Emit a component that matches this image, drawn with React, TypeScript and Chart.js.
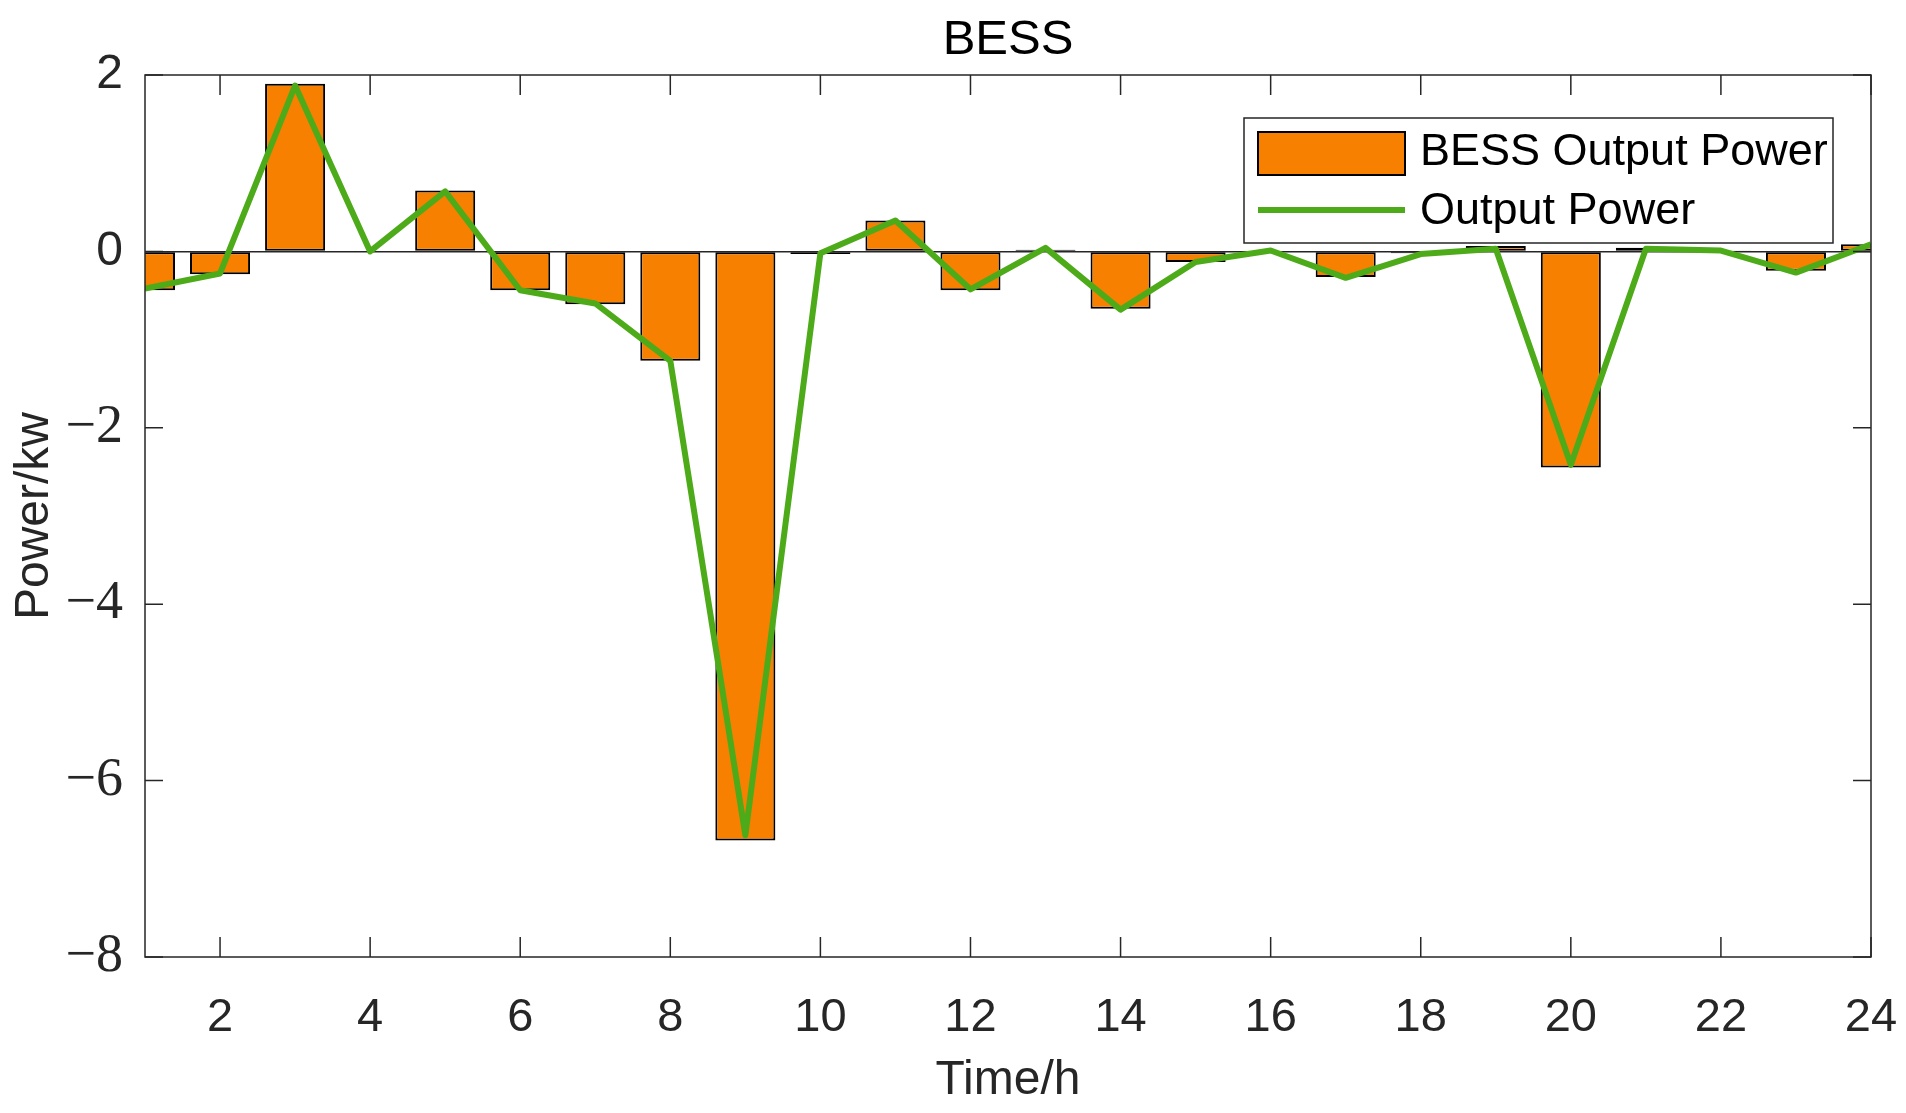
import React, { useEffect, useRef } from 'react';
import { Chart, registerables } from 'chart.js';

Chart.register(...registerables);

const hours = [1, 2, 3, 4, 5, 6, 7, 8, 9, 10, 11, 12, 13, 14, 15, 16, 17, 18, 19, 20, 21, 22, 23, 24];
const bessOutputPower = [-0.44, -0.26, 1.9, 0, 0.69, -0.44, -0.6, -1.24, -6.68, -0.03, 0.35, -0.44, 0.02, -0.65, -0.12, -0.01, -0.29, -0.02, 0.06, -2.45, 0.04, 0.01, -0.22, 0.08];
const outputPower = [-0.42, -0.25, 1.88, 0, 0.68, -0.44, -0.59, -1.24, -6.62, -0.02, 0.35, -0.43, 0.04, -0.66, -0.12, 0.01, -0.3, -0.03, 0.03, -2.42, 0.03, 0.01, -0.24, 0.08];
const xTickValues = [2, 4, 6, 8, 10, 12, 14, 16, 18, 20, 22, 24];
const yMin = -8;
const yMax = 2;
const yStep = 2;

const SANS = '"Liberation Sans", Arial, sans-serif';
const SERIF = '"Liberation Serif", "Times New Roman", serif';
const AXIS = '#262626';
const ORANGE = '#f88000';
const GREEN = '#4dab1a';

const frameTicks = {
  id: 'frameTicks',
  afterDatasetsDraw(chart: any) {
    const { ctx, chartArea: a, scales } = chart;
    const x = scales.x;
    const y = scales.y;
    ctx.save();
    ctx.strokeStyle = AXIS;
    ctx.lineWidth = 1.5;
    ctx.beginPath();
    x.ticks.forEach((t: any) => {
      const px = x.getPixelForValue(t.value);
      ctx.moveTo(px, a.bottom);
      ctx.lineTo(px, a.bottom - 20);
      ctx.moveTo(px, a.top);
      ctx.lineTo(px, a.top + 20);
    });
    y.ticks.forEach((t: any) => {
      const py = y.getPixelForValue(t.value);
      ctx.moveTo(a.left, py);
      ctx.lineTo(a.left + 18, py);
      ctx.moveTo(a.right, py);
      ctx.lineTo(a.right - 18, py);
    });
    ctx.stroke();
    ctx.strokeRect(a.left, a.top, a.right - a.left, a.bottom - a.top);
    ctx.restore();
  },
};

const boxLegend = {
  id: 'boxLegend',
  afterDraw(chart: any) {
    const { ctx, chartArea: a } = chart;
    const w = 589;
    const h = 125;
    const right = a.right - 38;
    const left = right - w;
    const top = a.top + 43;
    const [ds0, ds1] = chart.data.datasets;
    ctx.save();
    ctx.fillStyle = '#ffffff';
    ctx.fillRect(left, top, w, h);
    ctx.strokeStyle = AXIS;
    ctx.lineWidth = 1.5;
    ctx.strokeRect(left, top, w, h);
    // bar swatch
    ctx.fillStyle = ds0.backgroundColor;
    ctx.fillRect(left + 14, top + 14, 147, 43);
    ctx.strokeStyle = '#000';
    ctx.lineWidth = 2;
    ctx.strokeRect(left + 14, top + 14, 147, 43);
    // line swatch
    ctx.strokeStyle = ds1.borderColor;
    ctx.lineWidth = ds1.borderWidth;
    ctx.beginPath();
    ctx.moveTo(left + 14, top + 92);
    ctx.lineTo(left + 161, top + 92);
    ctx.stroke();
    ctx.fillStyle = '#000';
    ctx.font = `45px ${SANS}`;
    ctx.textBaseline = 'middle';
    ctx.textAlign = 'left';
    ctx.fillText(ds0.label, left + 176, top + 35);
    ctx.fillText(ds1.label, left + 176, top + 94);
    ctx.restore();
  },
};

export default function App() {
  const ref = useRef<HTMLCanvasElement | null>(null);

  useEffect(() => {
    document.body.style.margin = '0';
    document.body.style.overflow = 'hidden';
    const canvas = ref.current;
    if (!canvas) return;
    const fmt = (v: number) => (v < 0 ? '\u2212' + Math.abs(v) : String(v));
    const chart = new Chart(canvas, {
      type: 'bar',
      data: {
        datasets: [
          {
            type: 'bar',
            label: 'BESS Output Power',
            data: hours.map((h, i) => ({ x: h, y: bessOutputPower[i] })),
            backgroundColor: ORANGE,
            borderColor: '#000000',
            borderWidth: 2,
            borderSkipped: false,
            categoryPercentage: 1,
            barPercentage: 0.8,
            clip: 0,
            order: 2,
          } as any,
          {
            type: 'line',
            label: 'Output Power',
            data: hours.map((h, i) => ({ x: h, y: outputPower[i] })),
            borderColor: GREEN,
            backgroundColor: GREEN,
            borderWidth: 6,
            borderJoinStyle: 'round',
            pointRadius: 0,
            tension: 0,
            fill: false,
            order: 1,
          } as any,
        ],
      },
      options: {
        animation: false,
        responsive: false,
        maintainAspectRatio: false,
        layout: { padding: { left: 0, right: 35, top: 0, bottom: 0 } },
        plugins: {
          legend: { display: false },
          tooltip: { enabled: false },
          title: {
            display: true,
            text: 'BESS',
            color: '#000000',
            fullSize: false,
            font: { family: SANS, size: 49, weight: 'normal', lineHeight: 1 },
            padding: { top: 16, bottom: 10 },
          },
        },
        scales: {
          x: {
            type: 'linear',
            min: hours[0],
            max: hours[hours.length - 1],
            offset: false,
            afterBuildTicks: (s: any) => {
              s.ticks = xTickValues.map((v) => ({ value: v }));
            },
            afterFit: (s: any) => {
              s.height = 156;
              s.paddingLeft = 0;
              s.paddingRight = 0;
            },
            grid: { display: false, offset: false },
            border: { display: false },
            ticks: {
              color: AXIS,
              padding: 25,
              maxRotation: 0,
              autoSkip: false,
              font: { family: SANS, size: 47 },
              callback: (v: any) => fmt(Number(v)),
            },
            title: {
              display: true,
              text: 'Time/h',
              color: AXIS,
              font: { family: SANS, size: 48 },
              padding: { top: 0, bottom: 3 },
            },
          },
          y: {
            type: 'linear',
            min: yMin,
            max: yMax,
            afterFit: (s: any) => {
              s.width = 145;
              s.paddingTop = 0;
              s.paddingBottom = 0;
            },
            grid: {
              drawTicks: false,
              lineWidth: 1.5,
              color: (c: any) => (c.tick && c.tick.value === 0 ? AXIS : 'rgba(0,0,0,0)'),
            },
            border: { display: false },
            ticks: {
              stepSize: yStep,
              color: AXIS,
              padding: 22,
              font: (c: any) =>
                c.tick && c.tick.value < 0 ? { family: SERIF, size: 54 } : { family: SANS, size: 48 },
              callback: (v: any) => fmt(Number(v)),
            },
            title: {
              display: true,
              text: 'Power/kw',
              color: AXIS,
              font: { family: SANS, size: 48 },
              padding: { top: 6, bottom: 0 },
            },
          },
        },
      } as any,
      plugins: [frameTicks, boxLegend],
    });
    return () => chart.destroy();
  }, []);

  return <canvas ref={ref} width={1906} height={1113} style={{ display: 'block' }} />;
}
